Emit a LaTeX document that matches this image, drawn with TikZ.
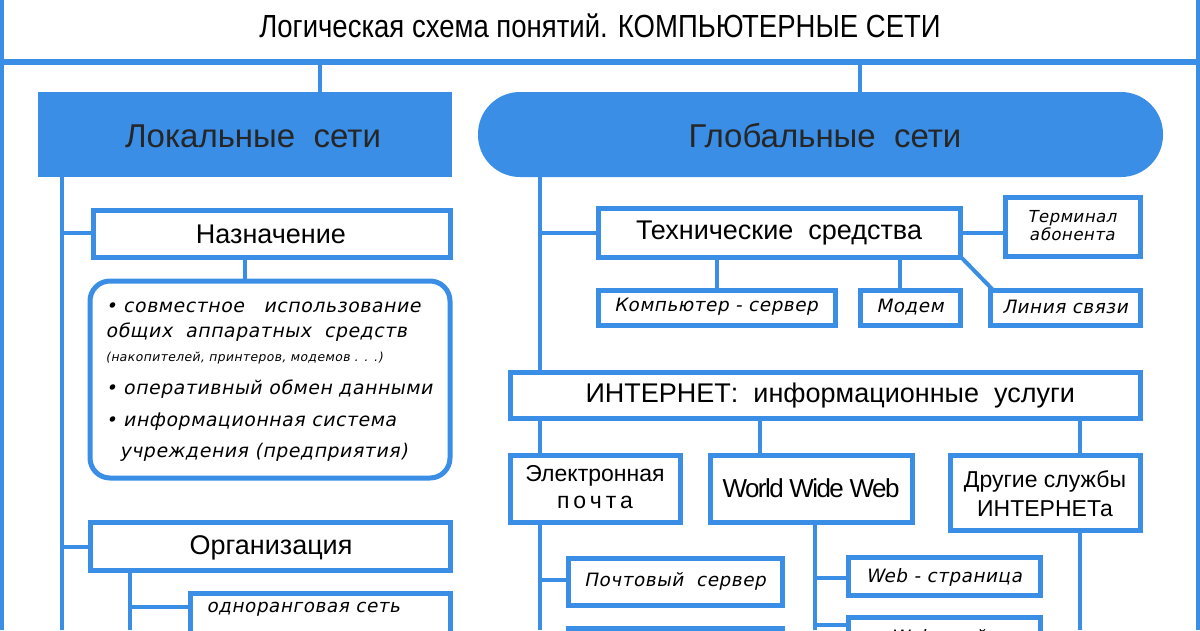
\documentclass[tikz,border=0pt]{standalone}
\usepackage{fontspec}
\setmainfont{Liberation Sans}
\newfontfamily\itf{DejaVu Sans}[FakeSlant=0.2,Scale=0.92,LetterSpace=3]
\definecolor{bl}{HTML}{3A8EE6}
\begin{document}
\begin{tikzpicture}[x=1pt,y=-1pt,
  box/.style={draw=bl,line width=5pt,fill=white,inner sep=0pt,anchor=north west},
  ln/.style={draw=bl,line width=4pt},
  hd/.style={font=\fontsize{27}{29}\selectfont},
  it/.style={font=\itf\fontsize{20}{22}\selectfont},
  li/.style={font=\itf\fontsize{20.5}{22}\selectfont,anchor=west}]
\useasboundingbox (0,0) rectangle (1200,630);
\begin{scope}
\clip (0,0) rectangle (1200,630);
\fill[white] (0,0) rectangle (1200,630);
% frame
\draw[ln] (2,0) -- (2,630);
\draw[ln] (1198,0) -- (1198,630);
\draw[bl,line width=6pt] (0,62) -- (1200,62);
\node[font=\fontsize{32}{34}\selectfont] (title) at (600,26) {\scalebox{0.86}[1]{Логическая схема понятий. КОМПЬЮТЕРНЫЕ СЕТИ}};
% top nodes
\fill[bl] (38,92) rectangle (452,177);
\node[font=\fontsize{33}{35}\selectfont,text=black!85] (loc) at (253,136) {Локальные\ \ сети};
\fill[bl,rounded corners=42pt] (478,92) rectangle (1163,177);
\node[font=\fontsize{33}{35}\selectfont,text=black!85] (glob) at (825,136) {Глобальные\ \ сети};
\draw[ln] (320,63) -- (320,92);
\draw[ln] (860,63) -- (860,92);
% left trunk
\draw[ln] (62,177) -- (62,630);
\draw[ln] (62,233) -- (93,233);
\draw[ln] (62,547) -- (90,547);
\draw[ln] (245,257) -- (245,282);
\draw[ln] (130,570) -- (130,630);
\draw[ln] (130,607) -- (190,607);
% boxes left
\draw[box] (93,210) rectangle (450,257);
\node[hd] (naz) at (271,234) {Назначение};
\draw[draw=bl,line width=5pt,rounded corners=20pt] (90,281) rectangle (450,478);
\node[li] (l1) at (102,307) {• совместное\ \ \ использование};
\node[li] (l2) at (102,332) {общих\ \ аппаратных\ \ средств};
\node[li,font=\itf\fontsize{13.5}{14}\selectfont] (l3) at (102,358) {(накопителей, принтеров, модемов . . .)};
\node[li] (l4) at (102,389) {• оперативный обмен данными};
\node[li] (l5) at (102,422) {• информационная система};
\node[li] (l6) at (116,452) {учреждения (предприятия)};
\draw[box] (90,522) rectangle (450,570);
\node[hd] (org) at (271,548) {Организация};
\draw[box] (190,593) rectangle (450,645);
\node[it,anchor=west] (odn) at (203,609) {одноранговая сеть};
% right trunk
\draw[ln] (540,177) -- (540,630);
\draw[ln] (540,233) -- (598,233);
\draw[ln] (960,233) -- (1005,233);
\draw[ln] (717,257) -- (717,290);
\draw[ln] (900,257) -- (900,290);
\draw[ln] (958,254) -- (995,292);
\draw[ln] (760,418) -- (760,455);
\draw[ln] (1080,418) -- (1080,630);
\draw[ln] (815,522) -- (815,630);
\draw[ln] (540,580) -- (568,580);
\draw[ln] (815,578) -- (848,578);
\draw[ln] (815,625) -- (848,625);
% right boxes
\draw[box] (598,208) rectangle (960,257);
\node[hd] (tech) at (779,233) {Технические\ \ средства};
\draw[box] (1005,197) rectangle (1140,256);
\node[it,align=center,font=\itf\fontsize{18}{18}\selectfont] (term) at (1072,226) {Терминал\\абонента};
\draw[box] (598,290) rectangle (835,325);
\node[it] (comp) at (716,307) {Компьютер - сервер};
\draw[box] (860,290) rectangle (960,325);
\node[it] (mod) at (910,307) {Модем};
\draw[box] (990,290) rectangle (1140,325);
\node[it] (lin) at (1065,307) {Линия связи};
\draw[box] (510,372) rectangle (1140,418);
\node[hd,anchor=west] (inet) at (582,396) {ИНТЕРНЕТ:\ \ информационные\ \ услуги};
\draw[box] (510,455) rectangle (680,522);
\node[align=center,font=\fontsize{23}{27}\selectfont] (mail) at (595,487) {Электронная\\п\,о\,ч\,т\,а};
\draw[box] (710,455) rectangle (912,522);
\node[font=\fontsize{26}{28}\selectfont] (www) at (811,488) {\addfontfeature{LetterSpace=-6}World Wide Web};
\draw[box] (950,455) rectangle (1140,530);
\node[align=center,font=\fontsize{23}{29}\selectfont] (oth) at (1045,494) {Другие службы\\ИНТЕРНЕТа};
\draw[box] (568,558) rectangle (782,605);
\node[it] (ps) at (675,581) {Почтовый\ \ сервер};
\draw[box] (848,557) rectangle (1040,595);
\node[it] (wp) at (944,577) {Web - страница};
\draw[box] (568,628) rectangle (782,670);
\draw[box] (848,617) rectangle (1040,670);
\node[it] (ws) at (944,637) {Web - сайт};
\end{scope}
\end{tikzpicture}
\end{document}
